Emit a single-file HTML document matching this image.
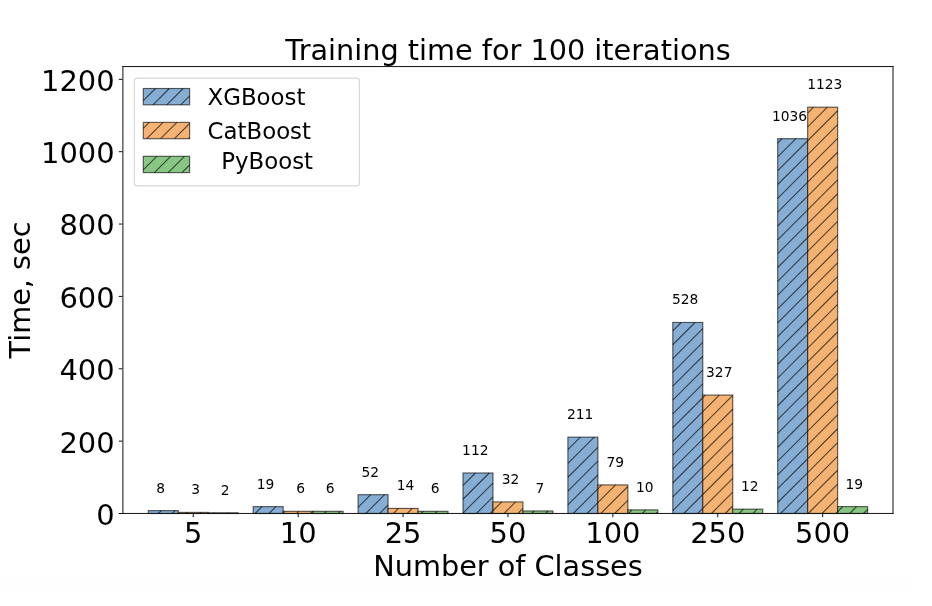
<!DOCTYPE html>
<html lang="en"><head><meta charset="utf-8"><title>Training time for 100 iterations</title>
<style>html,body{margin:0;padding:0;background:#fff}body{width:932px;height:606px;overflow:hidden}svg text{white-space:pre}</style>
</head><body>
<svg width="932" height="606" viewBox="0 0 932 606" style="display:block;filter:blur(0.3px);font-family:'DejaVu Sans','Liberation Sans',sans-serif">
<rect width="932" height="606" fill="#ffffff"/>
<rect x="0" y="577" width="911" height="12.6" fill="#fefefe"/>
<rect x="148.30" y="510.61" width="29.97" height="2.89" fill="rgb(134,173,211)"/>
<path d="M158.38 513.50L161.28 510.61M172.21 513.50L175.10 510.61" stroke="rgba(0,0,0,0.62)" stroke-width="1.15" fill="none"/>
<rect x="148.30" y="510.61" width="29.97" height="2.89" fill="none" stroke="rgba(0,0,0,0.62)" stroke-width="1.15"/>
<text x="160.59" y="492.51" font-size="13.8" text-anchor="middle" fill="#000">8</text>
<rect x="178.27" y="512.41" width="29.97" height="1.09" fill="rgb(244,179,115)"/>
<path d="M186.03 513.50L187.12 512.41M199.86 513.50L200.95 512.41" stroke="rgba(0,0,0,0.62)" stroke-width="1.15" fill="none"/>
<rect x="178.27" y="512.41" width="29.97" height="1.09" fill="none" stroke="rgba(0,0,0,0.62)" stroke-width="1.15"/>
<text x="195.75" y="494.31" font-size="13.8" text-anchor="middle" fill="#000">3</text>
<rect x="208.24" y="512.78" width="29.97" height="0.72" fill="rgb(136,198,132)"/>
<path d="M213.69 513.50L214.41 512.78M227.51 513.50L228.24 512.78" stroke="rgba(0,0,0,0.62)" stroke-width="1.15" fill="none"/>
<rect x="208.24" y="512.78" width="29.97" height="0.72" fill="none" stroke="rgba(0,0,0,0.62)" stroke-width="1.15"/>
<text x="225.23" y="494.68" font-size="13.8" text-anchor="middle" fill="#000">2</text>
<rect x="253.20" y="506.63" width="29.97" height="6.87" fill="rgb(134,173,211)"/>
<path d="M255.16 513.50L262.04 506.63M268.99 513.50L275.86 506.63M282.82 513.50L283.17 513.15" stroke="rgba(0,0,0,0.62)" stroke-width="1.15" fill="none"/>
<rect x="253.20" y="506.63" width="29.97" height="6.87" fill="none" stroke="rgba(0,0,0,0.62)" stroke-width="1.15"/>
<text x="265.49" y="488.53" font-size="13.8" text-anchor="middle" fill="#000">19</text>
<rect x="283.17" y="511.33" width="29.97" height="2.17" fill="rgb(244,179,115)"/>
<path d="M283.17 513.15L284.99 511.33M296.64 513.50L298.81 511.33M310.47 513.50L312.64 511.33" stroke="rgba(0,0,0,0.62)" stroke-width="1.15" fill="none"/>
<rect x="283.17" y="511.33" width="29.97" height="2.17" fill="none" stroke="rgba(0,0,0,0.62)" stroke-width="1.15"/>
<text x="300.65" y="493.23" font-size="13.8" text-anchor="middle" fill="#000">6</text>
<rect x="313.14" y="511.33" width="29.97" height="2.17" fill="rgb(136,198,132)"/>
<path d="M324.29 513.50L326.46 511.33M338.12 513.50L340.29 511.33" stroke="rgba(0,0,0,0.62)" stroke-width="1.15" fill="none"/>
<rect x="313.14" y="511.33" width="29.97" height="2.17" fill="none" stroke="rgba(0,0,0,0.62)" stroke-width="1.15"/>
<text x="330.12" y="493.23" font-size="13.8" text-anchor="middle" fill="#000">6</text>
<rect x="358.10" y="494.69" width="29.97" height="18.81" fill="rgb(134,173,211)"/>
<path d="M358.10 507.35L370.76 494.69M365.77 513.50L384.59 494.69M379.60 513.50L388.07 505.03" stroke="rgba(0,0,0,0.62)" stroke-width="1.15" fill="none"/>
<rect x="358.10" y="494.69" width="29.97" height="18.81" fill="none" stroke="rgba(0,0,0,0.62)" stroke-width="1.15"/>
<text x="370.39" y="476.59" font-size="13.8" text-anchor="middle" fill="#000">52</text>
<rect x="388.07" y="508.43" width="29.97" height="5.07" fill="rgb(244,179,115)"/>
<path d="M393.42 513.50L398.49 508.43M407.25 513.50L412.32 508.43" stroke="rgba(0,0,0,0.62)" stroke-width="1.15" fill="none"/>
<rect x="388.07" y="508.43" width="29.97" height="5.07" fill="none" stroke="rgba(0,0,0,0.62)" stroke-width="1.15"/>
<text x="405.56" y="490.33" font-size="13.8" text-anchor="middle" fill="#000">14</text>
<rect x="418.04" y="511.33" width="29.97" height="2.17" fill="rgb(136,198,132)"/>
<path d="M421.08 513.50L423.25 511.33M434.90 513.50L437.07 511.33" stroke="rgba(0,0,0,0.62)" stroke-width="1.15" fill="none"/>
<rect x="418.04" y="511.33" width="29.97" height="2.17" fill="none" stroke="rgba(0,0,0,0.62)" stroke-width="1.15"/>
<text x="435.02" y="493.23" font-size="13.8" text-anchor="middle" fill="#000">6</text>
<rect x="463.00" y="472.98" width="29.97" height="40.52" fill="rgb(134,173,211)"/>
<path d="M463.00 485.40L475.42 472.98M463.00 499.23L489.25 472.98M463.00 513.05L492.97 483.08M476.38 513.50L492.97 496.91M490.21 513.50L492.97 510.74" stroke="rgba(0,0,0,0.62)" stroke-width="1.15" fill="none"/>
<rect x="463.00" y="472.98" width="29.97" height="40.52" fill="none" stroke="rgba(0,0,0,0.62)" stroke-width="1.15"/>
<text x="475.29" y="454.88" font-size="13.8" text-anchor="middle" fill="#000">112</text>
<rect x="492.97" y="501.92" width="29.97" height="11.58" fill="rgb(244,179,115)"/>
<path d="M492.97 510.74L501.78 501.92M504.03 513.50L515.61 501.92M517.86 513.50L522.94 508.42" stroke="rgba(0,0,0,0.62)" stroke-width="1.15" fill="none"/>
<rect x="492.97" y="501.92" width="29.97" height="11.58" fill="none" stroke="rgba(0,0,0,0.62)" stroke-width="1.15"/>
<text x="510.46" y="483.82" font-size="13.8" text-anchor="middle" fill="#000">32</text>
<rect x="522.94" y="510.97" width="29.97" height="2.53" fill="rgb(136,198,132)"/>
<path d="M531.68 513.50L534.22 510.97M545.51 513.50L548.04 510.97" stroke="rgba(0,0,0,0.62)" stroke-width="1.15" fill="none"/>
<rect x="522.94" y="510.97" width="29.97" height="2.53" fill="none" stroke="rgba(0,0,0,0.62)" stroke-width="1.15"/>
<text x="539.93" y="492.87" font-size="13.8" text-anchor="middle" fill="#000">7</text>
<rect x="567.90" y="437.16" width="29.97" height="76.34" fill="rgb(134,173,211)"/>
<path d="M567.90 449.63L580.37 437.16M567.90 463.46L594.20 437.16M567.90 477.28L597.87 447.31M567.90 491.11L597.87 461.14M567.90 504.94L597.87 474.97M573.16 513.50L597.87 488.79M586.99 513.50L597.87 502.62" stroke="rgba(0,0,0,0.62)" stroke-width="1.15" fill="none"/>
<rect x="567.90" y="437.16" width="29.97" height="76.34" fill="none" stroke="rgba(0,0,0,0.62)" stroke-width="1.15"/>
<text x="580.19" y="419.06" font-size="13.8" text-anchor="middle" fill="#000">211</text>
<rect x="597.87" y="484.92" width="29.97" height="28.58" fill="rgb(244,179,115)"/>
<path d="M597.87 488.79L601.74 484.92M597.87 502.62L615.57 484.92M600.81 513.50L627.84 486.47M614.64 513.50L627.84 500.30" stroke="rgba(0,0,0,0.62)" stroke-width="1.15" fill="none"/>
<rect x="597.87" y="484.92" width="29.97" height="28.58" fill="none" stroke="rgba(0,0,0,0.62)" stroke-width="1.15"/>
<text x="615.36" y="466.82" font-size="13.8" text-anchor="middle" fill="#000">79</text>
<rect x="627.84" y="509.88" width="29.97" height="3.62" fill="rgb(136,198,132)"/>
<path d="M628.47 513.50L632.08 509.88M642.29 513.50L645.91 509.88M656.12 513.50L657.81 511.81" stroke="rgba(0,0,0,0.62)" stroke-width="1.15" fill="none"/>
<rect x="627.84" y="509.88" width="29.97" height="3.62" fill="none" stroke="rgba(0,0,0,0.62)" stroke-width="1.15"/>
<text x="644.83" y="491.78" font-size="13.8" text-anchor="middle" fill="#000">10</text>
<rect x="672.80" y="322.47" width="29.97" height="191.03" fill="rgb(134,173,211)"/>
<path d="M672.80 330.91L681.24 322.47M672.80 344.73L695.06 322.47M672.80 358.56L702.77 328.59M672.80 372.38L702.77 342.41M672.80 386.21L702.77 356.24M672.80 400.04L702.77 370.07M672.80 413.86L702.77 383.89M672.80 427.69L702.77 397.72M672.80 441.51L702.77 411.54M672.80 455.34L702.77 425.37M672.80 469.17L702.77 439.20M672.80 482.99L702.77 453.02M672.80 496.82L702.77 466.85M672.80 510.64L702.77 480.67M683.77 513.50L702.77 494.50M697.60 513.50L702.77 508.33" stroke="rgba(0,0,0,0.62)" stroke-width="1.15" fill="none"/>
<rect x="672.80" y="322.47" width="29.97" height="191.03" fill="none" stroke="rgba(0,0,0,0.62)" stroke-width="1.15"/>
<text x="685.08" y="304.37" font-size="13.8" text-anchor="middle" fill="#000">528</text>
<rect x="702.77" y="395.05" width="29.97" height="118.45" fill="rgb(244,179,115)"/>
<path d="M702.77 397.72L705.44 395.05M702.77 411.54L719.27 395.05M702.77 425.37L732.74 395.40M702.77 439.20L732.74 409.23M702.77 453.02L732.74 423.05M702.77 466.85L732.74 436.88M702.77 480.67L732.74 450.70M702.77 494.50L732.74 464.53M702.77 508.33L732.74 478.36M711.42 513.50L732.74 492.18M725.25 513.50L732.74 506.01" stroke="rgba(0,0,0,0.62)" stroke-width="1.15" fill="none"/>
<rect x="702.77" y="395.05" width="29.97" height="118.45" fill="none" stroke="rgba(0,0,0,0.62)" stroke-width="1.15"/>
<text x="719.25" y="376.95" font-size="13.8" text-anchor="middle" fill="#000">327</text>
<rect x="732.74" y="509.16" width="29.97" height="4.34" fill="rgb(136,198,132)"/>
<path d="M739.07 513.50L743.42 509.16M752.90 513.50L757.24 509.16" stroke="rgba(0,0,0,0.62)" stroke-width="1.15" fill="none"/>
<rect x="732.74" y="509.16" width="29.97" height="4.34" fill="none" stroke="rgba(0,0,0,0.62)" stroke-width="1.15"/>
<text x="749.73" y="491.06" font-size="13.8" text-anchor="middle" fill="#000">12</text>
<rect x="777.70" y="138.68" width="29.97" height="374.82" fill="rgb(134,173,211)"/>
<path d="M777.70 143.05L782.07 138.68M777.70 156.88L795.90 138.68M777.70 170.70L807.67 140.73M777.70 184.53L807.67 154.56M777.70 198.35L807.67 168.38M777.70 212.18L807.67 182.21M777.70 226.01L807.67 196.04M777.70 239.83L807.67 209.86M777.70 253.66L807.67 223.69M777.70 267.48L807.67 237.51M777.70 281.31L807.67 251.34M777.70 295.14L807.67 265.17M777.70 308.96L807.67 278.99M777.70 322.79L807.67 292.82M777.70 336.61L807.67 306.64M777.70 350.44L807.67 320.47M777.70 364.27L807.67 334.30M777.70 378.09L807.67 348.12M777.70 391.92L807.67 361.95M777.70 405.74L807.67 375.77M777.70 419.57L807.67 389.60M777.70 433.40L807.67 403.43M777.70 447.22L807.67 417.25M777.70 461.05L807.67 431.08M777.70 474.87L807.67 444.90M777.70 488.70L807.67 458.73M777.70 502.53L807.67 472.56M780.55 513.50L807.67 486.38M794.38 513.50L807.67 500.21" stroke="rgba(0,0,0,0.62)" stroke-width="1.15" fill="none"/>
<rect x="777.70" y="138.68" width="29.97" height="374.82" fill="none" stroke="rgba(0,0,0,0.62)" stroke-width="1.15"/>
<text x="789.59" y="120.58" font-size="13.8" text-anchor="middle" fill="#000">1036</text>
<rect x="807.67" y="107.20" width="29.97" height="406.30" fill="rgb(244,179,115)"/>
<path d="M807.67 113.08L813.55 107.20M807.67 126.91L827.38 107.20M807.67 140.73L837.64 110.76M807.67 154.56L837.64 124.59M807.67 168.38L837.64 138.41M807.67 182.21L837.64 152.24M807.67 196.04L837.64 166.07M807.67 209.86L837.64 179.89M807.67 223.69L837.64 193.72M807.67 237.51L837.64 207.54M807.67 251.34L837.64 221.37M807.67 265.17L837.64 235.20M807.67 278.99L837.64 249.02M807.67 292.82L837.64 262.85M807.67 306.64L837.64 276.67M807.67 320.47L837.64 290.50M807.67 334.30L837.64 304.33M807.67 348.12L837.64 318.15M807.67 361.95L837.64 331.98M807.67 375.77L837.64 345.80M807.67 389.60L837.64 359.63M807.67 403.43L837.64 373.46M807.67 417.25L837.64 387.28M807.67 431.08L837.64 401.11M807.67 444.90L837.64 414.93M807.67 458.73L837.64 428.76M807.67 472.56L837.64 442.59M807.67 486.38L837.64 456.41M807.67 500.21L837.64 470.24M808.20 513.50L837.64 484.06M822.03 513.50L837.64 497.89M835.86 513.50L837.64 511.72" stroke="rgba(0,0,0,0.62)" stroke-width="1.15" fill="none"/>
<rect x="807.67" y="107.20" width="29.97" height="406.30" fill="none" stroke="rgba(0,0,0,0.62)" stroke-width="1.15"/>
<text x="824.76" y="89.10" font-size="13.8" text-anchor="middle" fill="#000">1123</text>
<rect x="837.64" y="506.63" width="29.97" height="6.87" fill="rgb(136,198,132)"/>
<path d="M837.64 511.72L842.73 506.63M849.68 513.50L856.56 506.63M863.51 513.50L867.61 509.40" stroke="rgba(0,0,0,0.62)" stroke-width="1.15" fill="none"/>
<rect x="837.64" y="506.63" width="29.97" height="6.87" fill="none" stroke="rgba(0,0,0,0.62)" stroke-width="1.15"/>
<text x="854.23" y="488.53" font-size="13.8" text-anchor="middle" fill="#000">19</text>
<path d="M122.9 66.05V513.95M893.0 66.05V513.95M122.40 66.55H893.50M122.40 513.45H893.50" fill="none" stroke="#111" stroke-width="1.0"/>
<line x1="118.80" x2="122.5" y1="513.50" y2="513.50" stroke="#111" stroke-width="1.0"/>
<text x="114.7" y="524.90" font-size="28.95" text-anchor="end" fill="#000">0</text>
<line x1="118.80" x2="122.5" y1="441.14" y2="441.14" stroke="#111" stroke-width="1.0"/>
<text x="114.7" y="452.54" font-size="28.95" text-anchor="end" fill="#000">200</text>
<line x1="118.80" x2="122.5" y1="368.78" y2="368.78" stroke="#111" stroke-width="1.0"/>
<text x="114.7" y="380.18" font-size="28.95" text-anchor="end" fill="#000">400</text>
<line x1="118.80" x2="122.5" y1="296.42" y2="296.42" stroke="#111" stroke-width="1.0"/>
<text x="114.7" y="307.82" font-size="28.95" text-anchor="end" fill="#000">600</text>
<line x1="118.80" x2="122.5" y1="224.06" y2="224.06" stroke="#111" stroke-width="1.0"/>
<text x="114.7" y="235.46" font-size="28.95" text-anchor="end" fill="#000">800</text>
<line x1="118.80" x2="122.5" y1="151.70" y2="151.70" stroke="#111" stroke-width="1.0"/>
<text x="114.7" y="163.10" font-size="28.95" text-anchor="end" fill="#000">1000</text>
<line x1="118.80" x2="122.5" y1="79.34" y2="79.34" stroke="#111" stroke-width="1.0"/>
<text x="114.7" y="90.74" font-size="28.95" text-anchor="end" fill="#000">1200</text>
<line x1="193.25" x2="193.25" y1="513.5" y2="517.20" stroke="#111" stroke-width="1.0"/>
<text x="193.25" y="542.6" font-size="28.95" text-anchor="middle" fill="#000">5</text>
<line x1="298.16" x2="298.16" y1="513.5" y2="517.20" stroke="#111" stroke-width="1.0"/>
<text x="298.16" y="542.6" font-size="28.95" text-anchor="middle" fill="#000">10</text>
<line x1="403.06" x2="403.06" y1="513.5" y2="517.20" stroke="#111" stroke-width="1.0"/>
<text x="403.06" y="542.6" font-size="28.95" text-anchor="middle" fill="#000">25</text>
<line x1="507.96" x2="507.96" y1="513.5" y2="517.20" stroke="#111" stroke-width="1.0"/>
<text x="507.96" y="542.6" font-size="28.95" text-anchor="middle" fill="#000">50</text>
<line x1="612.86" x2="612.86" y1="513.5" y2="517.20" stroke="#111" stroke-width="1.0"/>
<text x="612.86" y="542.6" font-size="28.95" text-anchor="middle" fill="#000">100</text>
<line x1="717.75" x2="717.75" y1="513.5" y2="517.20" stroke="#111" stroke-width="1.0"/>
<text x="717.75" y="542.6" font-size="28.95" text-anchor="middle" fill="#000">250</text>
<line x1="822.66" x2="822.66" y1="513.5" y2="517.20" stroke="#111" stroke-width="1.0"/>
<text x="822.66" y="542.6" font-size="28.95" text-anchor="middle" fill="#000">500</text>
<text x="508.00" y="59.9" font-size="28.72" text-anchor="middle" fill="#000">Training time for 100 iterations</text>
<text x="508.00" y="575.5" font-size="28.72" text-anchor="middle" fill="#000">Number of Classes</text>
<text transform="translate(30.3 290.00) rotate(-90)" font-size="28.72" text-anchor="middle" fill="#000">Time, sec</text>
<rect x="134.4" y="78.1" width="224.99999999999997" height="107.80000000000001" rx="3" ry="3" fill="rgba(255,255,255,0.8)" stroke="rgba(204,204,204,0.8)" stroke-width="1.15"/>
<rect x="143.3" y="88.5" width="46.30" height="16.30" fill="rgb(134,173,211)"/>
<path d="M143.30 100.68L155.48 88.50M153.00 104.80L169.30 88.50M166.83 104.80L183.13 88.50M180.65 104.80L189.60 95.85" stroke="rgba(0,0,0,0.62)" stroke-width="1.15" fill="none"/>
<rect x="143.3" y="88.5" width="46.30" height="16.30" fill="none" stroke="rgba(0,0,0,0.62)" stroke-width="1.15"/>
<text x="207.6" y="104.7" font-size="22.85" fill="#000">XGBoost</text>
<rect x="143.3" y="122.4" width="46.30" height="16.30" fill="rgb(244,179,115)"/>
<path d="M143.30 128.33L149.23 122.40M146.75 138.70L163.05 122.40M160.58 138.70L176.88 122.40M174.41 138.70L189.60 123.51M188.23 138.70L189.60 137.33" stroke="rgba(0,0,0,0.62)" stroke-width="1.15" fill="none"/>
<rect x="143.3" y="122.4" width="46.30" height="16.30" fill="none" stroke="rgba(0,0,0,0.62)" stroke-width="1.15"/>
<text x="207.6" y="138.6" font-size="22.85" fill="#000">CatBoost</text>
<rect x="143.3" y="156.3" width="46.30" height="16.30" fill="rgb(136,198,132)"/>
<path d="M143.30 169.81L156.81 156.30M154.33 172.60L170.63 156.30M168.16 172.60L184.46 156.30M181.98 172.60L189.60 164.98" stroke="rgba(0,0,0,0.62)" stroke-width="1.15" fill="none"/>
<rect x="143.3" y="156.3" width="46.30" height="16.30" fill="none" stroke="rgba(0,0,0,0.62)" stroke-width="1.15"/>
<text x="221.3" y="169.2" font-size="22.85" fill="#000">PyBoost</text>
</svg>
</body></html>
